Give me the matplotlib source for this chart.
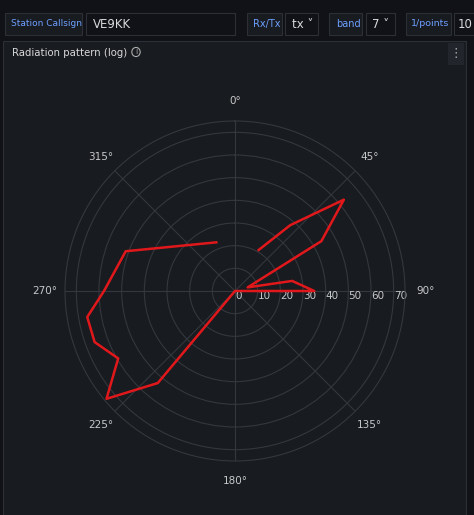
import numpy as np
import matplotlib.pyplot as plt
from matplotlib.patches import Rectangle, Circle

# bearing (deg) and gain values
theta_deg = [30, 40, 50, 60, 74, 80, 90, 180, 220, 230, 240, 250, 260, 270, 290, 339]
gain = [20.9, 37.9, 62.7, 44.0, 5.8, 25.6, 35.0, 0.0, 53.0, 74.0, 59.5, 65.9, 66.2, 57.8, 51.3, 23.0]
r_ticks = [0, 10, 20, 30, 40, 50, 60, 70]
ang_ticks = [0, 45, 90, 135, 180, 225, 270, 315]

W, H = 474, 515
fig = plt.figure(figsize=(W / 100, H / 100), dpi=100, facecolor="#111217")

def px_rect(x, y, w, h, fc, ec="#2c2f36"):
    fig.patches.append(Rectangle((x / W, 1 - (y + h) / H), w / W, h / H, transform=fig.transFigure,
                                 facecolor=fc, edgecolor=ec, linewidth=0.8, zorder=-5))

def px_text(x, y, s, color, size=8, **kw):
    fig.text(x / W, 1 - y / H, s, color=color, fontsize=size, va="center", **kw)

# top variable bar
px_rect(5, 13, 77, 22, "#181b1f")
px_text(11, 24, "Station Callsign", "#6e9fff", 6.5)
px_rect(86, 13, 149, 22, "#111217")
px_text(93, 24, "VE9KK", "#d8d9da", 8.5)
px_rect(247, 13, 35, 22, "#181b1f")
px_text(253, 24, "Rx/Tx", "#6e9fff", 7)
px_rect(285, 13, 33, 22, "#111217")
px_text(292, 24, "tx \u02c5", "#d8d9da", 8.5)
px_rect(329, 13, 33, 22, "#181b1f")
px_text(336, 24, "band", "#6e9fff", 7)
px_rect(366, 13, 29, 22, "#111217")
px_text(372, 24, "7 \u02c5", "#d8d9da", 8.5)
px_rect(406, 13, 45, 22, "#181b1f")
px_text(411, 24, "1/points", "#6e9fff", 6.8)
px_rect(454, 13, 25, 22, "#111217")
px_text(458, 24, "10", "#d8d9da", 8.5)

# panel
px_rect(3, 41, 463, 480, "#181b1f")
px_text(12, 53, "Radiation pattern (log)", "#d8d9da", 7.3)
fig.patches.append(Circle((136 / W, 1 - 52 / H), 4.2 / W, transform=fig.transFigure,
                          facecolor="none", edgecolor="#aaaaaa", linewidth=0.8))
px_text(136, 52, "i", "#aaaaaa", 5.5, ha="center")
px_rect(448, 43, 16, 22, "#22252b", ec="none")
px_text(456, 53, "\u22ee", "#aaaaaa", 9, ha="center")

ax = fig.add_axes([65 / W, (H - 291 - 170) / H, 340 / W, 340 / H], projection="polar")
ax.set_facecolor("#181b1f")
ax.set_theta_zero_location("N")
ax.set_theta_direction(-1)
ax.plot(np.deg2rad(theta_deg), gain, color="#e0181b", linewidth=1.8)
ax.set_rlim(0, 75)
ax.set_rticks(r_ticks)
ax.set_rlabel_position(90)
ax.set_thetagrids(ang_ticks, [f"{a}\u00b0" for a in ang_ticks])
ax.tick_params(colors="#c7c8ca", labelsize=7.5)
ax.tick_params(axis="x", pad=4)
for lab in ax.get_yticklabels():
    lab.set_verticalalignment("top")
ax.grid(color="#34373d", linewidth=0.8)
ax.spines["polar"].set_color("#34373d")
ax.spines["polar"].set_linewidth(0.8)

fig.savefig("out.png", dpi=100, facecolor=fig.get_facecolor())
